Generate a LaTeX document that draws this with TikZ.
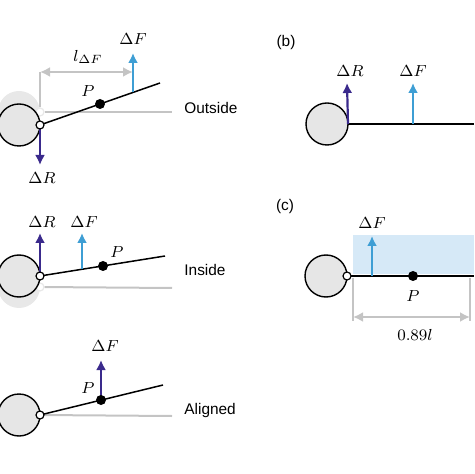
\documentclass[tikz,border=0pt]{standalone}
\usepackage[no-math]{fontspec}
\newfontfamily\lsans{Liberation Sans}
\usetikzlibrary{arrows.meta}
\definecolor{dpurple}{RGB}{58,42,140}
\definecolor{lblue}{RGB}{62,158,212}
\definecolor{lgray}{RGB}{196,196,196}
\definecolor{cfill}{RGB}{230,230,230}
\definecolor{gfill}{RGB}{232,232,232}
\definecolor{rfill}{RGB}{214,233,247}
\begin{document}
\begin{tikzpicture}[x=0.5pt,y=-0.5pt,
  body/.style={circle,draw=black,line width=0.7pt,fill=cfill,minimum size=21pt,inner sep=0pt},
  ghost/.style={circle,fill=gfill,minimum size=21pt,inner sep=0pt},
  joint/.style={circle,draw=black,fill=white,line width=0.6pt,minimum size=4pt,inner sep=0pt},
  gjoint/.style={circle,draw=gfill,fill=white,line width=0.6pt,minimum size=4pt,inner sep=0pt},
  pdot/.style={circle,fill=black,minimum size=5pt,inner sep=0pt},
  rod/.style={line width=0.75pt},
  rodb/.style={line width=1.1pt},
  guide/.style={draw=lgray,line width=1pt},
  tipb/.style={-{Latex[length=5pt,width=5pt]}},
  farrow/.style={draw=lblue,line width=1.1pt,tipb},
  rarrow/.style={draw=dpurple,line width=1.1pt,tipb},
  dim/.style={draw=lgray,line width=1pt,{Latex[length=5pt,width=5pt]}-{Latex[length=5pt,width=5pt]}},
  lab/.style={font=\fontsize{8.2}{10}\selectfont,inner sep=0pt},
  tag/.style={font=\lsans\fontsize{7.7}{9}\selectfont,inner sep=0pt}
]
\useasboundingbox (0,0) rectangle (474,474);

% ---------- Outside ----------
\node[ghost] (ga) at (19,112) {};
\node[gjoint] (gja) at (40,112) {};
\coordinate (ea) at (172,112);
\draw[guide] (gja) -- (ea);
\coordinate (dal) at (40,72);
\coordinate (dar) at (133,72);
\draw[guide] (gja.north) -- (dal);
\draw[dim] (dal) -- (dar);
\node[lab] (lda) at (88,57) {$l_{\Delta F}$};
\node[body] (ba) at (19,125) {};
\coordinate (ja0) at (40,125);
\coordinate (ra) at (160,83);
\draw[rod] (ja0) -- (ra);
\coordinate (fa0) at (133,92.5);
\coordinate (fa1) at (133,53);
\draw[farrow] (fa0) -- (fa1);
\node[lab] (lfa) at (133,39) {$\Delta F$};
\coordinate (rra) at (40,165);
\draw[rarrow] (ja0) -- (rra);
\node[lab] (lra) at (42,178) {$\Delta R$};
\node[joint] (ja) at (ja0) {};
\node[pdot] (pa) at (100,104) {};
\node[lab] (lpa) at (88,91) {$P$};
\node[tag,anchor=west] (to) at (184,108) {Outside};

% ---------- Inside ----------
\node[ghost] (gi) at (19,287) {};
\node[gjoint] (gji) at (40,287) {};
\coordinate (ei) at (172,288);
\draw[guide] (gji) -- (ei);
\node[body] (bi) at (19,276) {};
\coordinate (ji0) at (40,276);
\coordinate (ri) at (165,256);
\draw[rod] (ji0) -- (ri);
\coordinate (ri1) at (40,233);
\draw[rarrow] (ji0) -- (ri1);
\node[lab] (lri) at (42,222) {$\Delta R$};
\coordinate (fi0) at (82,269.3);
\coordinate (fi1) at (82,233);
\draw[farrow] (fi0) -- (fi1);
\node[lab] (lfi) at (84,222) {$\Delta F$};
\node[joint] (ji) at (ji0) {};
\node[pdot] (pi) at (103,266) {};
\node[lab] (lpi) at (117,252) {$P$};
\node[tag,anchor=west] (ti) at (184,270) {Inside};

% ---------- Aligned ----------
\node[body] (bl) at (19,415) {};
\coordinate (jl0) at (40,415);
\coordinate (el) at (172,416);
\draw[guide] (jl0) -- (el);
\coordinate (rl) at (163,385);
\draw[rod] (jl0) -- (rl);
\node[joint] (jl) at (jl0) {};
\coordinate (fl0) at (101,400);
\coordinate (fl1) at (101,360);
\draw[rarrow] (fl0) -- (fl1);
\node[pdot] (pl) at (fl0) {};
\node[lab] (lfl) at (105,346) {$\Delta F$};
\node[lab] (lpl) at (88,388) {$P$};
\node[tag,anchor=west] (tl) at (184,411) {Aligned};

% ---------- (b) ----------
\node[tag] (tb) at (286,43) {(b)};
\node[body] (bb) at (327,124) {};
\coordinate (jb) at (348,124);
\coordinate (eb) at (474,124);
\draw[rodb] (jb) -- (eb);
\coordinate (rb1) at (347,83);
\draw[rarrow] (jb) -- (rb1);
\node[lab] (lrb) at (350,71) {$\Delta R$};
\coordinate (fb0) at (413,124);
\coordinate (fb1) at (413,83);
\draw[farrow] (fb0) -- (fb1);
\node[lab] (lfb) at (413,71) {$\Delta F$};

% ---------- (c) ----------
\node[tag] (tc) at (285,207) {(c)};
\fill[rfill] (353,235) rectangle (474,274);
\node[body] (bc) at (326,276) {};
\coordinate (jc0) at (347,276);
\coordinate (ec) at (474,276);
\draw[rodb] (jc0) -- (ec);
\node[joint] (jc) at (jc0) {};
\coordinate (fc0) at (372,276);
\coordinate (fc1) at (372,236);
\draw[farrow] (fc0) -- (fc1);
\node[lab] (lfc) at (372,223) {$\Delta F$};
\node[pdot] (pc) at (413,276) {};
\node[lab] (lpc) at (413,296) {$P$};
\coordinate (dc1) at (353,278);
\coordinate (dc2) at (353,321);
\coordinate (dc3) at (470,278);
\coordinate (dc4) at (470,321);
\draw[guide] (dc1) -- (dc2);
\draw[guide] (dc3) -- (dc4);
\coordinate (dc5) at (353,317);
\coordinate (dc6) at (470,317);
\draw[dim] (dc5) -- (dc6);
\node[lab] (lc) at (415,335) {$0.89l$};
\end{tikzpicture}
\end{document}
